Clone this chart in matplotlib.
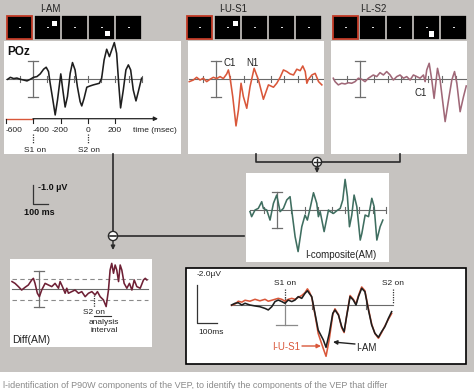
import matplotlib
matplotlib.use('Agg')
import matplotlib.pyplot as plt
from matplotlib.patches import Rectangle, Circle
from matplotlib.transforms import blended_transform_factory as blend

# ---------------- data (time in ms, amplitude in microvolts, negative up) ----------------
iam_t = [-588, -568, -544, -520, -495, -471, -446, -422, -398, -373,
         -349, -324, -305, -288, -276, -256, -239, -222, -198, -183,
         -166, -149, -129, -112, -93, -76, -56, -44, -27, -7,
         17, 41, 66, 85, 102, 120, 139, 159, 176, 195,
         212, 227, 241, 261, 280, 298, 315, 334, 354, 371, 395]
iam_v = [0, -0.11, -0.04, -0.07, 0, 0.04, 0.09, 0, -0.11, -0.15,
         -0.30, -0.56, -0.67, -0.43, 0.22, 1.15, 1.98, 1.15, -0.30, 0.59,
         1.54, 0.96, -0.33, -0.93, -0.52, 0.41, 1.24, 1.48, 1.06, 0.44,
         0.37, 0.31, 0.26, 0.22, -0.06, -1.07, -1.67, -1.26, -1.63, -2.04,
         -1.44, 0.22, 1.59, 0.59, -0.52, -0.80, -0.52, 0.59, 1.20, 0.69, -0.06]

ius1_t = [-598, -568, -544, -519, -495, -470, -446, -421, -397, -372,
          -348, -323, -311, -299, -279, -255, -237, -218, -201, -176,
          -152, -122, -90, -54, -17, 20, 44, 69, 93, 118,
          142, 167, 191, 216, 235, 253, 265, 277, 302, 326, 351, 375]
ius1_v = [0.13, 0.04, -0.11, 0.04, -0.06, 0.13, 0, -0.11, -0.04, -0.15,
          -0.04, -0.30, -0.52, -0.11, 0.96, 2.59, 1.70, 0.22, 0.96, 1.61,
          0.41, -0.61, 0.04, 1.11, 0.31, 0.44, 0.22, -0.11, -0.52, -0.43,
          -0.30, -0.24, -0.56, -0.48, -0.74, -0.43, 0.22, 0, -0.24, -0.33, 0.13, 0.31]

ils2_t = [-598, -585, -561, -536, -512, -487, -463, -438, -414, -389,
          -365, -340, -304, -279, -255, -230, -206, -181, -157, -132,
          -108, -83, -59, -34, -10, 15, 39, 64, 76, 88,
          106, 125, 142, 167, 186, 223, 248, 272, 292, 309, 333, 358, 378]
ils2_v = [-0.06, 0.13, 0.31, 0.22, 0.26, 0.19, 0.22, 0.13, -0.06, 0,
          0.13, -0.06, -0.24, -0.15, -0.37, -0.24, -0.43, -0.24, 0.04, -0.15,
          -0.24, -0.06, -0.15, 0.04, -0.24, -0.15, -0.06, -0.24, 0.13, -0.52,
          -0.89, 0.04, 1.06, -0.61, 0.04, 2.35, 1.15, 0.04, -0.43, 0.22, 1.80, 0.96, 0.37]

comp_t = [-600, -588, -563, -539, -514, -502, -477, -453, -428, -404,
          -379, -355, -330, -306, -294, -269, -247, -220, -196, -179,
          -159, -134, -110, -98, -85, -56, -24, -12, 13, 37,
          62, 81, 98, 115, 130, 147, 164, 184, 209, 221,
          245, 270, 294, 311, 331, 355, 375]
comp_v = [0.09, 0.37, 0, -0.09, -0.46, -0.09, 0, 0.56, -0.37, -0.83,
          0.09, -0.09, -0.56, -0.74, 0, 1.48, 2.31, 0.93, 0.28, 0.56,
          -0.09, -0.96, -0.37, 0.37, 0.09, 1.20, 0, 0.09, 0.19, 0.04,
          -0.09, -0.56, -1.70, -0.74, 0.93, 0.28, -0.83, -0.19, 1.67, 1.30,
          0.28, 0.37, -0.65, -0.19, 1.67, 0.93, 0.56]

diff_t = [-600, -578, -553, -529, -504, -480, -455, -443, -431, -414,
          -399, -382, -357, -333, -308, -284, -259, -247, -230, -210,
          -198, -186, -162, -137, -112, -88, -63, -39, -14, 10,
          27, 47, 71, 91, 108, 120, 132, 145, 157, 169,
          182, 194, 206, 223, 243, 262, 280, 297, 316, 341, 365, 378, 390]
diff_v = [-0.43, -0.33, -0.15, 0.04, -0.11, -0.24, -0.52, -0.61, -0.33, 0.22,
          0.41, 0.04, -0.33, -0.24, -0.15, -0.33, -0.06, -0.43, -0.15, 0.22,
          -0.06, 0.22, 0.13, 0.04, 0.22, 0.13, 0.41, 0.22, 0.13, 0.31,
          0.13, 0.41, 0.59, 0.96, 0.04, -1.07, -1.44, -0.89, -1.35, -1.07,
          -0.43, -1.35, -1.07, -0.33, -0.06, -0.33, 0.04, -0.52, -0.15, -0.06, -0.52, -0.61, -0.52]
diff_band = [-0.56, 0.59]

ovl_t = [-598, -585, -573, -560, -548, -530, -511, -493, -474, -462,
         -449, -437, -425, -412, -400, -388, -375, -363, -351, -338,
         -326, -317, -310, -301, -289, -277, -258, -248, -236, -223,
         -215, -202, -190, -181, -172, -159, -147, -137, -128, -116,
         -104, -91, -79, -67, -54, -42, -30, -17, -5]
ovl_am = [0, -0.09, -0.12, 0, -0.09, 0, 0.05, 0.09, 0.18, 0.26,
          0.09, -0.18, -0.26, -0.18, -0.09, -0.26, -0.18, -0.26, -0.44, -0.35,
          -0.61, -0.75, -0.61, -0.44, 0.44, 1.32, 1.84, 2.23, 1.49, 0.44,
          0.26, 0.53, 1.14, 1.40, 0.61, -0.44, -0.26, 0, -0.44, -0.88,
          -0.70, 0.26, 1.05, 1.49, 1.70, 1.40, 1.14, 0.70, 0.35]
ovl_us1 = [0.02, -0.05, -0.2, -0.15, -0.25, -0.2, -0.3, -0.22, -0.3, -0.2,
           -0.25, -0.3, -0.35, -0.3, -0.2, -0.3, -0.35, -0.3, -0.4, -0.5,
           -0.65, -0.85, -0.7, -0.4, 0.5, 1.5, 2.3, 2.7, 1.8, 0.5,
           0.2, 0.5, 1.2, 1.45, 0.6, -0.5, -0.3, -0.05, -0.5, -0.95,
           -0.75, 0.2, 1.0, 1.5, 1.75, 1.45, 1.1, 0.75, 0.45]

time_ticks = [-600, -400, -200, 0, 200]
time_labels = ['-600', '-400', '-200', '0', '200']
grid_ticks = [-500, -300, -200, -100, 0, 100, 200, 300, 400]

# ---------------- style ----------------
plt.rcParams['font.family'] = ['Liberation Sans', 'DejaVu Sans']
W, H = 474, 389
BG = '#c6c3c0'
RED = '#d9573a'
MAUVE = '#a06878'
GREEN = '#3f6e60'
MAROON = '#6e2035'
DARK = '#1e1e1e'
ZC = '#6a6a6a'
EB = '#6e6e6e'
LN = '#2a2a2a'
WLW = 1.15

fig = plt.figure(figsize=(W / 100, H / 100), dpi=100)
fig.patch.set_facecolor(BG)
ov = fig.add_axes([0, 0, 1, 1], zorder=0)
ov.set_xlim(0, W)
ov.set_ylim(H, 0)
ov.axis('off')


def box(x0, y0, x1, y1, fc='white', ec='none', lw=0):
    ov.add_patch(Rectangle((x0, y0), x1 - x0, y1 - y0, fc=fc, ec=ec, lw=lw))


def wave_ax(b, x_ref, t_ref, k, zero_px, kv):
    x0, y0, x1, y1 = b
    ax = fig.add_axes([x0 / W, 1 - y1 / H, (x1 - x0) / W, (y1 - y0) / H], zorder=2)
    ax.set_xlim(t_ref + (x0 - x_ref) / k, t_ref + (x1 - x_ref) / k)
    ax.set_ylim((y1 - zero_px) / kv, (y0 - zero_px) / kv)
    ax.axis('off')
    return ax, blend(ax.transData, ov.transData)


def baseline(ax, t0, t1, ticks, h=0.17):
    ax.plot([t0, t1], [0, 0], color=ZC, lw=0.8, zorder=1)
    for t in ticks:
        ax.plot([t, t], [-h, h], color=ZC, lw=0.8, zorder=1)


def ebar(ax, t=-400, lo=-1.0, hi=1.0, half=36):
    ax.plot([t, t], [lo, hi], color=EB, lw=0.9, zorder=1)
    for v in (lo, hi):
        ax.plot([t - half, t + half], [v, v], color=EB, lw=0.9, zorder=1)


def frames(xs, y0, targets):
    for i, x in enumerate(xs):
        ov.add_patch(Rectangle((x, y0), 25.5, 23, fc='black',
                               ec=('#c23a26' if i == 0 else 'black'),
                               lw=(1.3 if i == 0 else 0.2)))
        cx, cy = x + 12.75, y0 + 11.5
        ov.add_patch(Rectangle((cx - 0.8, cy - 0.8), 1.6, 1.6, fc='#dddddd', ec='none'))
        if i in targets:
            dx, dy = targets[i]
            ov.add_patch(Rectangle((cx + dx - 2.6, cy + dy - 2.6), 5.2, 5.2, fc='white', ec='none'))


# ---------------- top row: stimulus frames ----------------
frames([7, 35, 62, 89, 116], 16, {1: (6.5, -4), 3: (5.5, 6)})
frames([187, 215, 242, 269, 296], 16, {1: (7.5, -4)})
frames([333, 360, 387, 414, 441], 16, {3: (4.5, 6.5)})
for x, lab in [(50, 'I-AM'), (233, 'I-U-S1'), (373, 'I-L-S2')]:
    ov.text(x, 8.5, lab, ha='center', va='center', fontsize=7, color='#222')

# ---------------- panel boxes ----------------
box(4, 41, 181, 154)
box(188, 41, 324, 154)
box(331, 41, 467, 154)
box(246, 173, 389, 262)
box(10, 259, 152, 347)
box(186, 268, 466, 364, fc='white', ec='black', lw=1.2)
box(0, 372, W, H)

# ---------------- connectors ----------------
ov.plot([256, 256, 400, 400], [154, 162, 162, 154], color=LN, lw=1.2)
ov.add_patch(Circle((317, 162), 4.6, fc='white', ec=LN, lw=1.0, zorder=3))
ov.plot([314, 320], [162, 162], color=LN, lw=1.0, zorder=4)
ov.plot([317, 317], [159, 165], color=LN, lw=1.0, zorder=4)
ov.annotate('', xy=(317, 173), xytext=(317, 166.6),
            arrowprops=dict(arrowstyle='-|>', color=LN, lw=1.0, mutation_scale=6,
                            shrinkA=0, shrinkB=0))

ov.plot([113, 113], [154, 231.4], color=LN, lw=1.2)
ov.plot([117.6, 244], [236, 236], color=LN, lw=1.2)
ov.add_patch(Circle((113, 236), 4.6, fc='white', ec=LN, lw=1.0, zorder=3))
ov.plot([110, 116], [236, 236], color=LN, lw=1.2, zorder=4)
ov.annotate('', xy=(113, 250), xytext=(113, 240.6),
            arrowprops=dict(arrowstyle='-|>', color=LN, lw=1.0, mutation_scale=6,
                            shrinkA=0, shrinkB=0))

# scale bar (left)
ov.plot([33, 33, 48], [185, 204, 204], color='#333', lw=0.9)
ov.text(38, 187, '-1.0 \u00b5V', ha='left', va='center', fontsize=6.5, fontweight='bold', color='#111')
ov.text(24, 212.5, '100 ms', ha='left', va='center', fontsize=6.5, fontweight='bold', color='#111')

# ---------------- I-AM panel ----------------
K = 0.13625
ax, tr = wave_ax((4, 41, 181, 154), 6, -600, K, 79.3, 18)
baseline(ax, -600, 400, grid_ticks)
ebar(ax)
ax.plot(iam_t, iam_v, color=DARK, lw=WLW, zorder=3)
ax.plot([-600, -400], [118.7, 118.7], color=RED, lw=1.0, transform=tr)
ax.annotate('', xy=(516, 118.7), xytext=(-402, 118.7), xycoords=tr, textcoords=tr,
            arrowprops=dict(arrowstyle='-|>', color='#222', lw=0.9, mutation_scale=6,
                            shrinkA=0, shrinkB=0))
for t, lab in zip(time_ticks, time_labels):
    ax.plot([t, t], [118.7, 122.5], color='#222', lw=0.8, transform=tr)
    ha = 'left' if t <= -400 else 'center'
    ax.text(t - (6 if t <= -400 else 0), 131, lab, ha=ha, va='center', fontsize=6,
            color='#222', transform=tr)
ax.text(495, 130, 'time (msec)', ha='center', va='center', fontsize=6, color='#222', transform=tr)
for t, lab in [(-400, 'S1 on'), (0, 'S2 on')]:
    ax.plot([t, t], [134, 144], color='#333', lw=0.9, ls=(0, (1, 1)), transform=tr)
    ax.text(t + 10, 150.5, lab, ha='center', va='center', fontsize=6, color='#222', transform=tr)
ov.text(7, 52, 'POz', ha='left', va='center', fontsize=8.5, fontweight='bold', color='#111')

# ---------------- I-U-S1 panel ----------------
ax, tr = wave_ax((188, 41, 324, 154), 189, -600, K, 79.3, 18)
baseline(ax, -600, 400, grid_ticks)
ebar(ax)
ax.plot(ius1_t, ius1_v, color=RED, lw=WLW, zorder=3)
ov.text(229.5, 63, 'C1', ha='center', va='center', fontsize=7, color='#222')
ov.text(252, 63, 'N1', ha='center', va='center', fontsize=7, color='#222')

# ---------------- I-L-S2 panel ----------------
ax, tr = wave_ax((331, 41, 467, 154), 333, -600, K, 79.3, 18)
baseline(ax, -600, 400, grid_ticks)
ebar(ax)
ax.plot(ils2_t, ils2_v, color=MAUVE, lw=WLW, zorder=3)
ov.text(421, 93, 'C1', ha='center', va='center', fontsize=7, color='#222')

# ---------------- composite panel ----------------
ax, tr = wave_ax((246, 173, 389, 262), 250, -600, K, 210, 18)
baseline(ax, -600, 400, grid_ticks)
ebar(ax)
ax.plot(comp_t, comp_v, color=GREEN, lw=WLW, zorder=3)
ov.text(341, 255, 'I-composite(AM)', ha='center', va='center', fontsize=7, color='#222')

# ---------------- difference panel ----------------
ax, tr = wave_ax((10, 259, 152, 347), 12, -600, K, 289.3, 18)
ax.plot([-600, 400], [0, 0], color=ZC, lw=0.8, zorder=1)
for v in diff_band:
    ax.plot([-600, 400], [v, v], color='#8a8a8a', lw=0.8, ls=(0, (4, 3)), zorder=1)
ebar(ax)
ax.plot(diff_t, diff_v, color=MAROON, lw=WLW, zorder=3)
ax.plot([0, 0], [295, 307], color='#333', lw=0.9, ls=(0, (1, 1)), transform=tr)
ax.text(0, 312, 'S2 on', ha='center', va='center', fontsize=6, color='#222', transform=tr)
ax.plot([0, 130], [316, 316], color='#333', lw=0.8, transform=tr)
ax.text(75, 322.5, 'analysis', ha='center', va='center', fontsize=6, color='#222', transform=tr)
ax.text(75, 330.5, 'interval', ha='center', va='center', fontsize=6, color='#222', transform=tr)
ov.text(12, 340, 'Diff(AM)', ha='left', va='center', fontsize=7.5, color='#222')

# ---------------- overlay panel ----------------
ax, tr = wave_ax((187, 269, 465, 363), 285, -400, 0.27, 305, 19)
baseline(ax, -600, 0, [-300, -100], h=0.22)
ax.plot([-400, -400], [-0.35, 1.05], color='#8a8a8a', lw=0.9, zorder=1)
ax.plot([-435, -356], [1.05, 1.05], color='#8a8a8a', lw=0.9, zorder=1)
ax.plot(ovl_t, ovl_us1, color=RED, lw=WLW, zorder=3)
ax.plot(ovl_t, ovl_am, color=DARK, lw=WLW, zorder=4)
for t, lab in [(-400, 'S1 on'), (0, 'S2 on')]:
    ax.plot([t, t], [289, 304], color='#333', lw=0.9, ls=(0, (1, 1)), transform=tr)
    ax.text(t, 283.5, lab, ha='center', va='center', fontsize=6, color='#222', transform=tr)
ov.plot([197, 197, 217], [285, 323, 323], color='#333', lw=0.9)
ov.text(197, 275, '-2.0\u00b5V', ha='left', va='center', fontsize=6, color='#222')
ov.text(198, 332, '100ms', ha='left', va='center', fontsize=6, color='#222')
ov.text(286, 347, 'I-U-S1', ha='center', va='center', fontsize=7, color=RED)
ov.annotate('', xy=(321, 346), xytext=(302, 346),
            arrowprops=dict(arrowstyle='-|>', color=RED, lw=1.0, mutation_scale=6,
                            shrinkA=0, shrinkB=0))
ov.text(366, 348, 'I-AM', ha='center', va='center', fontsize=7, color='#222')
ov.annotate('', xy=(333, 342), xytext=(355, 344),
            arrowprops=dict(arrowstyle='-|>', color='#222', lw=1.0, mutation_scale=6,
                            shrinkA=0, shrinkB=0))

# ---------------- caption (cut off) ----------------
ov.text(3, 386, 'l-identification of P90W components of the VEP, to identify the components of the VEP that differ',
        ha='left', va='center', fontsize=6.5, color='#8a8a8a')

fig.savefig('out.png', dpi=100, facecolor=BG)
